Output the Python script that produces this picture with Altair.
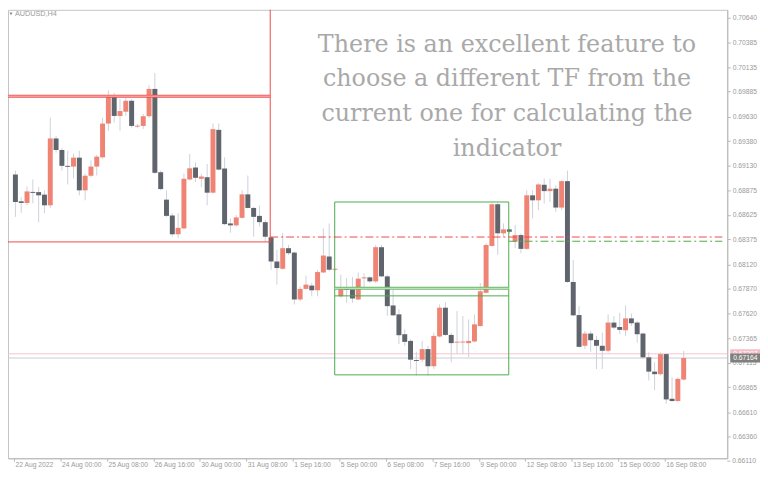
import altair as alt
import pandas as pd

# ---------------- candle data (AUDUSD, H4) ----------------
opens = [0.69039, 0.68765, 0.68748, 0.68861, 0.68859, 0.68833, 0.68724, 0.69407, 0.69289, 0.69127,
         0.69120, 0.69211, 0.68877, 0.69026, 0.69120, 0.69214, 0.69559, 0.69846, 0.69637, 0.69680,
         0.69792, 0.69528, 0.69535, 0.69634, 0.69913, 0.69062, 0.68782, 0.68620, 0.68428, 0.68488,
         0.68988, 0.69110, 0.68995, 0.69011, 0.68853, 0.69495, 0.69100, 0.68539, 0.68519, 0.68596,
         0.68836, 0.68697, 0.68616, 0.68552, 0.68397, 0.68150, 0.68076, 0.68286, 0.68241, 0.67762,
         0.67870, 0.67904, 0.67856, 0.68038, 0.68201, 0.68066, 0.67795, 0.67870, 0.67866, 0.67762,
         0.67978, 0.67988, 0.67947, 0.68296, 0.67998, 0.67701, 0.67610, 0.67407, 0.67339, 0.67144,
         0.67147, 0.67255, 0.67080, 0.67384, 0.67678, 0.67400, 0.67321, 0.67322, 0.67316, 0.67333,
         0.67491, 0.67830, 0.68309, 0.68735, 0.68438, 0.68478, 0.68353, 0.68420, 0.68279, 0.68826,
         0.68775, 0.68934, 0.68869, 0.68894, 0.68701, 0.68971, 0.67941, 0.67603, 0.67289, 0.67414,
         0.67349, 0.67289, 0.67238, 0.67526, 0.67481, 0.67448, 0.67569, 0.67526, 0.67414, 0.67171,
         0.67025, 0.66999, 0.67204, 0.66748, 0.66725, 0.66944]
highs = [0.69079, 0.68806, 0.68917, 0.68988, 0.68910, 0.68877, 0.69619, 0.69434, 0.69312, 0.69282,
         0.69252, 0.69282, 0.69049, 0.69181, 0.69241, 0.69619, 0.69897, 0.69873, 0.69809, 0.69822,
         0.69809, 0.69556, 0.69657, 0.69951, 0.70075, 0.69079, 0.68877, 0.68644, 0.68644, 0.69049,
         0.69248, 0.69163, 0.69046, 0.69147, 0.69559, 0.69559, 0.69214, 0.68590, 0.68623, 0.68877,
         0.69029, 0.68707, 0.68722, 0.68573, 0.68403, 0.68269, 0.68444, 0.68319, 0.68251, 0.67897,
         0.68005, 0.67931, 0.68066, 0.68488, 0.68539, 0.68076, 0.68015, 0.67982, 0.67992, 0.68038,
         0.68032, 0.67998, 0.68319, 0.68319, 0.68015, 0.67863, 0.67661, 0.67458, 0.67356, 0.67228,
         0.67339, 0.67289, 0.67424, 0.67711, 0.67734, 0.67424, 0.67643, 0.67593, 0.67559, 0.67610,
         0.67931, 0.68336, 0.68748, 0.68748, 0.68539, 0.68488, 0.68522, 0.68438, 0.68877, 0.68877,
         0.68950, 0.68995, 0.68995, 0.68927, 0.68978, 0.69079, 0.68167, 0.67694, 0.67441, 0.67441,
         0.67390, 0.67424, 0.67610, 0.67593, 0.67627, 0.67701, 0.67620, 0.67542, 0.67424, 0.67222,
         0.67120, 0.67222, 0.67212, 0.66968, 0.66968, 0.67238]
lows = [0.68606, 0.68646, 0.68724, 0.68745, 0.68552, 0.68644, 0.68697, 0.69262, 0.69079, 0.68937,
        0.68998, 0.68826, 0.68775, 0.69008, 0.69029, 0.69201, 0.69485, 0.69569, 0.69485, 0.69637,
        0.69518, 0.69515, 0.69505, 0.69619, 0.69046, 0.68877, 0.68606, 0.68403, 0.68390, 0.68481,
        0.68978, 0.68961, 0.68910, 0.68724, 0.68843, 0.69079, 0.68522, 0.68444, 0.68505, 0.68590,
        0.68691, 0.68403, 0.68505, 0.68353, 0.68066, 0.67914, 0.68066, 0.68218, 0.67711, 0.67745,
        0.67863, 0.67795, 0.67795, 0.68032, 0.68049, 0.68056, 0.67779, 0.67728, 0.67728, 0.67755,
        0.67870, 0.67931, 0.67931, 0.67992, 0.67593, 0.67593, 0.67306, 0.67289, 0.67052, 0.66985,
        0.67120, 0.66985, 0.67052, 0.67374, 0.67390, 0.67120, 0.67204, 0.67204, 0.67171, 0.67323,
        0.67485, 0.67823, 0.68302, 0.68218, 0.68403, 0.68438, 0.68286, 0.68235, 0.68269, 0.68590,
        0.68674, 0.68742, 0.68758, 0.68657, 0.68674, 0.67931, 0.67593, 0.67272, 0.67255, 0.67228,
        0.67052, 0.67052, 0.67222, 0.67458, 0.67407, 0.67390, 0.67491, 0.67323, 0.67154, 0.66934,
        0.66833, 0.66985, 0.66698, 0.66715, 0.66715, 0.66934]
closes = [0.68758, 0.68748, 0.68866, 0.68856, 0.68826, 0.68724, 0.69407, 0.69289, 0.69127, 0.69117,
          0.69211, 0.68877, 0.69026, 0.69120, 0.69221, 0.69559, 0.69846, 0.69637, 0.69687, 0.69792,
          0.69535, 0.69535, 0.69634, 0.69913, 0.69056, 0.68890, 0.68616, 0.68428, 0.68494, 0.68995,
          0.69102, 0.69005, 0.69018, 0.68853, 0.69502, 0.69089, 0.68532, 0.68519, 0.68600, 0.68836,
          0.68697, 0.68606, 0.68552, 0.68403, 0.68150, 0.68083, 0.68286, 0.68235, 0.67762, 0.67870,
          0.67914, 0.67856, 0.68042, 0.68211, 0.68066, 0.68069, 0.67870, 0.67866, 0.67772, 0.67975,
          0.67982, 0.67947, 0.68296, 0.67998, 0.67694, 0.67600, 0.67397, 0.67329, 0.67147, 0.67137,
          0.67255, 0.67080, 0.67390, 0.67678, 0.67400, 0.67316, 0.67326, 0.67328, 0.67339, 0.67508,
          0.67846, 0.68319, 0.68735, 0.68438, 0.68478, 0.68454, 0.68420, 0.68279, 0.68826, 0.68775,
          0.68937, 0.68869, 0.68894, 0.68701, 0.68971, 0.67941, 0.67600, 0.67278, 0.67414, 0.67346,
          0.67289, 0.67238, 0.67526, 0.67475, 0.67451, 0.67569, 0.67519, 0.67407, 0.67171, 0.67025,
          0.66999, 0.67204, 0.66741, 0.66725, 0.66951, 0.67164]

tick_pos = [0, 8, 16, 24, 32, 40, 48, 56, 64, 72, 80, 88, 96, 104, 112]
tick_labels = ["22 Aug 2022", "24 Aug 00:00", "25 Aug 08:00", "26 Aug 16:00", "30 Aug 00:00",
               "31 Aug 08:00", "1 Sep 16:00", "5 Sep 00:00", "6 Sep 08:00", "7 Sep 16:00",
               "9 Sep 00:00", "12 Sep 08:00", "13 Sep 16:00", "15 Sep 00:00", "16 Sep 08:00"]
price_ticks = [0.70640, 0.70385, 0.70135, 0.69885, 0.69630, 0.69380, 0.69130, 0.68875, 0.68625,
               0.68375, 0.68120, 0.67870, 0.67620, 0.67365, 0.67115, 0.66865, 0.66610, 0.66360]
bottom_tick = 0.66110
bottom_tick_text = "0.66110"

# ---------------- indicator levels ----------------
month_box = {"x": -2.0, "x2": 43.85, "lo": 0.68350, "hi": 0.71328, "mid": 0.69839, "close": 0.68400}
week_box = {"x": 54.95, "x2": 84.9, "lo": 0.66992, "hi": 0.68758, "mid": 0.67876, "open": 0.67799,
            "close": 0.68357}
ask_price = 0.67207
bid_price = 0.67164
ask_text = "0.67207"
bid_text = "0.67164"
title_text = "AUDUSD,H4"
note_lines = ["There is an excellent feature to", "choose a different TF from the",
              "current one for calculating the", "indicator"]

# ---------------- styling ----------------
BULL = "#EF8474"
BEAR = "#60656D"
WICK = "#CDD1DC"
RED = "#F04848"
GREEN = "#4DAA4D"
AXC = "#9a9a9a"
W, H = 725, 452
X_DOMAIN = [-0.421, 121.65]
Y_DOMAIN = [0.66140, 0.70721]

xs = alt.Scale(domain=X_DOMAIN, nice=False, zero=False)
ys = alt.Scale(domain=Y_DOMAIN, nice=False, zero=False)

label_expr = "[" + ",".join("'" + t + "'" for t in tick_labels) + "][round(datum.value / 8)]"
x_axis = alt.Axis(values=tick_pos, labelExpr=label_expr, orient="bottom", grid=False, tickSize=3,
                  tickOffset=-1.5, labelOffset=1, labelAlign="left", labelBaseline="top",
                  labelPadding=0.5, labelFontSize=6.8, labelFont="Liberation Sans", labelColor=AXC,
                  tickColor="#b8b8b8", domainColor="#b8b8b8", labelOverlap=False, labelFlush=False,
                  title=None, zindex=0)
y_axis = alt.Axis(values=price_ticks, format=".5f", orient="right", grid=False, tickSize=3,
                  labelPadding=2, labelFontSize=6.8, labelFont="Liberation Sans", labelColor=AXC,
                  tickColor="#b8b8b8", domainColor="#b8b8b8", labelOverlap=False, labelFlush=False,
                  title=None, zindex=0)

candles = pd.DataFrame({"i": list(range(len(opens))), "open": opens, "high": highs,
                        "low": lows, "close": closes})

def X(f):
    return alt.X(f, scale=xs, axis=x_axis)

def Y(f):
    return alt.Y(f, scale=ys, axis=y_axis)

# bid / ask lines
ba = pd.DataFrame({"p": [ask_price, bid_price], "c": ["#F4C4CC", "#C9CDD5"]})
ba_lines = alt.Chart(ba).mark_rule(strokeWidth=1).encode(
    y=Y("p:Q"), color=alt.Color("c:N", scale=None))

wicks = alt.Chart(candles).mark_rule(color=WICK, strokeWidth=1).encode(
    x=X("i:Q"), y=Y("low:Q"), y2="high:Q")

bodies = alt.Chart(candles).transform_calculate(
    dir="datum.close >= datum.open ? 'up' : 'down'",
    c2="abs(datum.close - datum.open) < 0.0001 ? (datum.close >= datum.open ? datum.open + 0.0001 : datum.open - 0.0001) : datum.close"
).mark_bar(size=5).encode(
    x=X("i:Q"), y=Y("open:Q"), y2="c2:Q",
    color=alt.Color("dir:N", scale=alt.Scale(domain=["up", "down"], range=[BULL, BEAR]), legend=None))

# boxes
boxes = pd.DataFrame({
    "x": [month_box["x"], week_box["x"]], "x2": [month_box["x2"], week_box["x2"]],
    "lo": [month_box["lo"], week_box["lo"]], "hi": [month_box["hi"], week_box["hi"]],
    "c": [RED, GREEN]})
box_layer = alt.Chart(boxes).mark_rect(fillOpacity=0, strokeWidth=1, clip=True).encode(
    x=X("x:Q"), x2="x2:Q", y=Y("lo:Q"), y2="hi:Q", stroke=alt.Stroke("c:N", scale=None))

# mid (double) lines
mids = pd.DataFrame({
    "x": [month_box["x"], week_box["x"]], "x2": [month_box["x2"], week_box["x2"]],
    "p": [month_box["mid"], week_box["mid"]], "outer": ["#F05050", "#6DBB6D"],
    "inner": ["#F9C2C2", "#CDE9CD"]})
mid_outer = alt.Chart(mids).mark_rule(strokeWidth=3, clip=True).encode(
    x=X("x:Q"), x2="x2:Q", y=Y("p:Q"), color=alt.Color("outer:N", scale=None))
mid_inner = alt.Chart(mids).mark_rule(strokeWidth=1, clip=True).encode(
    x=X("x:Q"), x2="x2:Q", y=Y("p:Q"), color=alt.Color("inner:N", scale=None))

# week open line
wopen = pd.DataFrame({"x": [week_box["x"]], "x2": [week_box["x2"]], "p": [week_box["open"]]})
wopen_line = alt.Chart(wopen).mark_rule(strokeWidth=1, color=GREEN).encode(
    x=X("x:Q"), x2="x2:Q", y=Y("p:Q"))

# close levels projected forward (dash-dot)
closes_df = pd.DataFrame({"x": [month_box["x2"], week_box["x2"]], "x2": [X_DOMAIN[1], X_DOMAIN[1]],
                          "p": [month_box["close"], week_box["close"]], "c": [RED, GREEN]})
close_lines = alt.Chart(closes_df).mark_rule(strokeWidth=1, strokeDash=[8, 3, 2, 3], clip=True).encode(
    x=X("x:Q"), x2="x2:Q", y=Y("p:Q"), color=alt.Color("c:N", scale=None))

# lowest price scale label (sits just below the plot's domain)
bt = pd.DataFrame({"p": [bottom_tick], "t": [bottom_tick_text]})
bt_tick = alt.Chart(bt).mark_rule(color="#b8b8b8", strokeWidth=1).encode(
    x=alt.value(W), x2=alt.value(W + 3), y=Y("p:Q"))
bt_text = alt.Chart(bt).mark_text(align="left", baseline="middle", fontSize=6.8,
                                  font="Liberation Sans", color=AXC).encode(
    x=alt.value(W + 5), y=Y("p:Q"), text="t:N")

# price labels on the right axis: ask (behind) then bid (on top)
def price_label(price, txt, bg):
    d = pd.DataFrame({"p": [price], "t": [txt]})
    r = alt.Chart(d).transform_calculate(
        a="datum.p - 0.00046", b="datum.p + 0.00046"
    ).mark_rect(color=bg).encode(
        x=alt.value(W + 3), x2=alt.value(W + 33), y=Y("a:Q"), y2="b:Q")
    t = alt.Chart(d).mark_text(align="left", baseline="middle", fontSize=6.8,
                               font="Liberation Sans", color="white").encode(
        x=alt.value(W + 6), y=Y("p:Q"), text="t:N")
    return r, t

ask_r, ask_t = price_label(ask_price, ask_text, "#F3BCC6")
bid_r, bid_t = price_label(bid_price, bid_text, "#7F7F7F")

# title + note
tdf = pd.DataFrame({"t": [title_text]})
tri = alt.Chart(tdf).mark_point(shape="triangle-down", filled=True, size=10, color="#8c8c8c",
                                opacity=1).encode(x=alt.value(3), y=alt.value(4))
title = alt.Chart(tdf).mark_text(align="left", baseline="middle", fontSize=7.3, font="Liberation Sans",
                                 color=AXC).encode(x=alt.value(7), y=alt.value(4.5), text="t:N")
note = alt.Chart(tdf).mark_text(text=note_lines, align="center", baseline="alphabetic", fontSize=24,
                                font="DejaVu Serif", color="#a9a9a9", lineHeight=35).encode(
    x=alt.value(503), y=alt.value(42))

chart = alt.layer(
    ba_lines, wicks, bodies, box_layer, mid_outer, mid_inner, wopen_line, close_lines,
    bt_tick, bt_text, ask_r, ask_t, bid_r, bid_t, tri, title, note
).properties(
    width=W, height=H,
    padding={"left": 0, "top": 0, "right": 33, "bottom": 11},
    autosize=alt.AutoSizeParams(type="none"),
    background="white"
).configure_view(stroke="#c4c4c4")

chart.save("out.html", embed_options={"renderer": "svg", "actions": False})
